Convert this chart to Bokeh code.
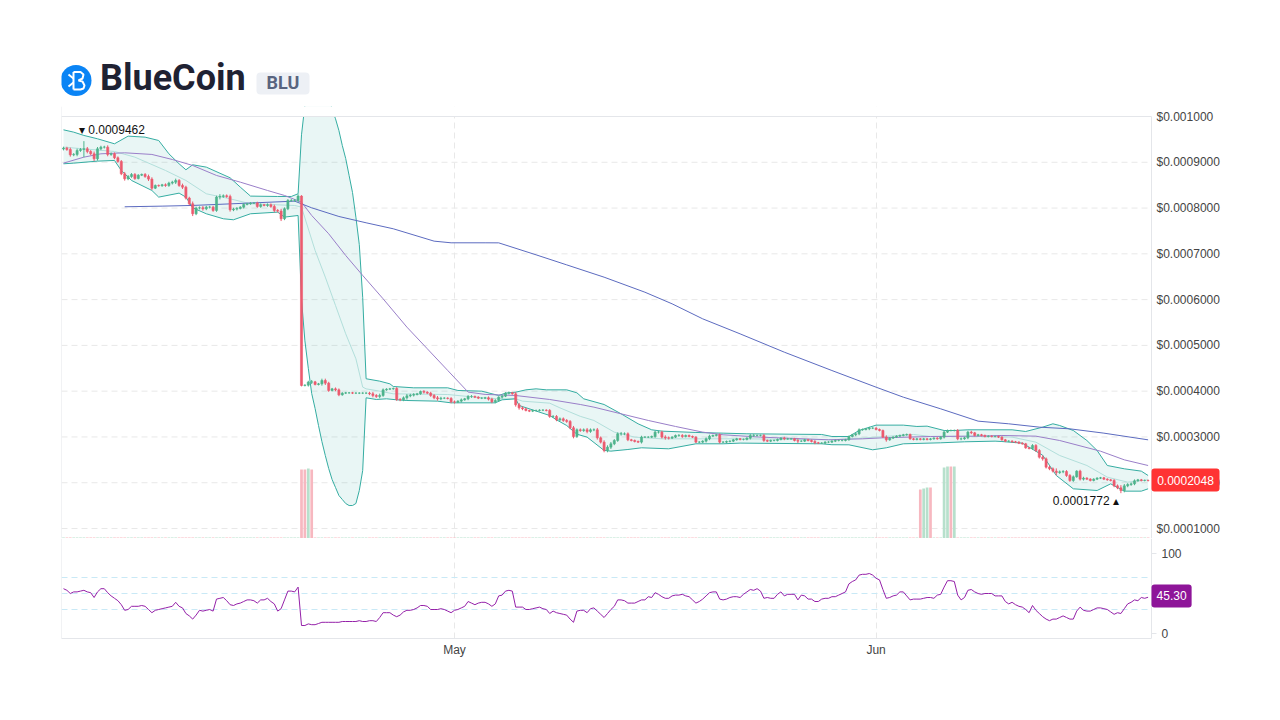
from datetime import datetime, timedelta
from bokeh.core.properties import value
from bokeh.embed import file_html
from bokeh.resources import INLINE
from bokeh.layouts import column
from bokeh.models import (Range1d, FixedTicker, CustomJSTickFormatter, DatetimeTickFormatter,
                          Label, Span, BoxAnnotation, LinearAxis)
from bokeh.plotting import figure

# ---- data (prices in units of 1e-7 USD) ----
TITLE = "BlueCoin"
SYMBOL = "BLU"
PRICE_TICKS = [1000, 2000, 3000, 4000, 5000, 6000, 7000, 8000, 9000, 10000]
RSI_TICKS = [0, 100]
RSI_LEVELS = [30, 50, 70]
MONTH_TICKS = [datetime(2024, 5, 1), datetime(2024, 6, 1)]
FIRST_CANDLE = datetime(2024, 4, 2, 6)
FIRST_OPEN = 9290
LAST_PRICE = 2048
LAST_RSI = 45.30
HIGH_MARK = (6, 9462)
LOW_MARK = (311, 1772)

CLOSES = [
 9309,9280,9163,9171,9258,9280,9294,9236,9185,9076,9294,9331,9331,9171,9185,9098,9018,8748,8639,8690,
 8734,8646,8719,8734,8690,8632,8435,8494,8486,8508,8494,8545,8566,8603,8494,8457,8217,8093,7875,8000,
 8006,7984,8020,8020,7948,8239,8253,8268,8253,7962,7977,7991,8020,8079,8093,8108,8108,8035,8071,8057,
 8071,8035,7948,7933,7766,7984,8166,8166,8166,8261,4124,4131,4197,4204,4146,4160,4233,4175,4015,4051,
 4029,3920,3957,3964,3964,3957,3957,3957,3957,3957,3942,3906,3884,3906,4029,4044,4051,4058,3818,3811,
 3855,3898,3913,3927,3942,3993,3978,3957,3906,3855,3833,3847,3847,3840,3767,3760,3782,3811,3833,3884,
 3884,3869,3847,3847,3855,3826,3767,3796,3869,3891,3957,3964,3942,3702,3636,3614,3578,3563,3578,3578,
 3585,3585,3578,3447,3447,3374,3396,3360,3338,3200,3010,3156,3141,3156,3120,3156,3156,2981,2887,2705,
 2777,2850,2923,3069,3069,3069,2938,2923,2901,2887,2996,2996,2996,3010,3105,3105,2996,2981,2974,2996,
 3032,3032,3010,3032,3010,2996,2887,2887,2908,2959,3018,3032,3047,2887,2887,2901,2908,2938,2959,2945,
 2945,2974,3032,3032,3032,3032,2923,2908,2923,2923,2945,2974,2959,2959,2959,2923,2908,2908,2938,2923,
 2901,2872,2865,2865,2887,2887,2908,2923,2923,2923,2938,3010,3047,3068,3156,3163,3178,3192,3192,3163,
 3141,2996,2937,2974,2996,3017,3032,3047,3054,2959,2945,2959,2945,2959,2945,2959,2974,2959,2996,3105,
 3141,3141,3141,2959,2959,2981,3105,3090,3032,3047,3032,3010,3017,3010,3010,2996,2937,2908,2908,2893,
 2886,2864,2850,2762,2748,2813,2704,2558,2522,2340,2304,2253,2223,2238,2245,2158,2049,2129,2253,2078,
 2100,2078,2049,2078,2100,2107,2078,2063,2049,1932,1889,1830,1932,1961,1976,2042,2063,2049,2049,2048]

WICKS = [
 30,30,40,30,40,30,168,40,30,50,40,30,30,40,30,30,30,30,40,30,
 30,30,20,20,30,40,40,20,20,20,30,30,30,40,30,40,30,30,50,30,
 30,40,30,30,30,30,50,30,30,40,30,30,20,30,20,20,20,30,30,20,
 30,30,40,30,50,30,30,30,30,40,20,20,30,40,20,20,40,40,30,20,
 30,30,20,20,20,20,20,20,20,20,30,40,30,40,30,20,20,20,30,30,
 30,40,30,30,20,20,30,20,30,30,40,30,20,20,30,30,20,30,20,30,
 30,20,20,20,20,30,30,30,20,30,20,30,20,40,40,30,20,20,20,20,
 20,20,20,30,30,30,30,30,30,30,40,30,30,30,40,30,30,40,30,40,
 40,40,30,30,40,30,30,20,20,20,30,20,20,20,30,30,30,40,30,20,
 20,30,30,20,20,20,20,20,20,30,30,20,20,30,20,20,20,20,20,20,
 20,20,30,30,20,20,30,20,20,20,20,20,30,20,20,20,40,20,20,20,
 20,30,20,20,20,20,20,20,20,20,20,20,20,30,30,20,20,30,20,20,
 20,20,40,20,20,20,20,20,20,20,20,20,20,20,20,20,20,20,20,30,
 20,20,20,30,30,20,30,30,20,20,20,20,20,20,20,20,20,20,20,20,
 20,20,20,20,20,30,30,30,40,30,30,30,60,30,30,30,30,30,20,30,
 30,20,20,20,20,20,20,20,20,30,30,58,40,30,30,30,20,20,20,20]

UPPER_IDX = [0,3,6,10,15,19,24,28,31,34,36,38,42,49,52,55,63,67,69,70,71,72,73,74,75,76,77,78,79,80,81,82,83,84,85,86,87,88,89,
 93,96,97,103,113,116,123,128,130,133,136,139,142,148,151,153,159,164,169,173,176,186,194,201,223,226,231,234,239,247,251,254,259,262,266,279,283,288,291,293,297,301,304,307,312,317,319]
UPPER_VAL = [9709,9658,9586,9513,9404,9571,9549,9476,9185,8967,8836,8945,8894,8661,8457,8261,8253,8253,8312,9600,10250,10500,10650,10700,10750,10750,10700,10500,10150,9950,9694,9367,9083,8712,8340,7800,7200,6050,4271,
 4219,4160,4102,4073,4073,4015,4000,3906,3957,3978,4029,4051,4029,4029,3964,3833,3709,3505,3287,3156,3127,3098,3083,3069,3054,3010,3010,3141,3258,3258,3229,3236,3141,3141,3156,3156,3119,3214,3287,3250,3141,2922,2704,2376,2304,2253,2158]

LOWER_IDX = [0,3,10,15,17,20,26,28,34,36,38,42,47,50,55,63,65,69,70,71,72,73,74,75,76,77,78,79,80,81,82,83,84,85,86,87,88,89,
 92,95,98,101,110,114,127,129,133,134,143,145,148,151,154,159,161,166,170,178,186,194,199,223,226,231,238,242,247,258,265,274,276,282,288,292,297,304,308,312,317,319]
LOWER_VAL = [8967,8981,9025,9040,8821,8603,8384,8239,8326,8239,8006,7875,7766,7744,7875,7911,7802,7838,6000,5100,4500,3950,3621,3250,2900,2595,2311,2070,1896,1721,1634,1546,1502,1502,1546,1830,2267,3855,
 3818,3833,3811,3796,3782,3745,3745,3811,3833,3687,3469,3374,3250,3060,2996,2705,2690,2726,2763,2741,2850,2850,2865,2850,2830,2828,2719,2763,2850,2872,2894,2908,2900,2864,2600,2158,1867,1830,1976,1816,1816,1867]

MID_IDX = [0,15,21,30,36,42,49,55,68,70,74,77,80,83,86,88,89,93,97,113,123,128,133,135,143,146,152,156,162,168,176,191,201,226,236,250,255,265,279,286,293,301,307,313,319]
MID_VAL = [9331,9236,9112,8821,8603,8312,8202,8093,8056,8020,7074,6491,5872,5254,4708,4089,4051,4000,3942,3927,3855,3833,3833,3782,3738,3636,3450,3360,3105,2996,2959,2959,2959,2937,2981,3054,3010,3017,2996,2886,2595,2376,2122,2012,2063]

SLOW_IDX = [0,6,11,18,26,32,38,45,52,60,65,70,73,78,83,88,94,101,107,113,119,124,133,143,146,152,156,164,172,180,188,194,205,225,235,241,255,269,276,286,293,305,312,319]
SLOW_VAL = [8981,9112,9185,9207,9171,9061,8930,8712,8566,8384,8275,8129,7838,7438,6964,6528,6018,5399,4926,4453,3980,3929,3905,3818,3782,3709,3651,3505,3360,3229,3105,3047,2996,2938,2959,2981,3010,3017,3032,3017,2922,2689,2500,2376]

LONG_IDX = [18,29,38,45,68,73,81,89,97,109,114,124,128,139,148,159,171,179,188,199,212,226,239,247,258,269,278,287,296,306,319]
LONG_VAL = [8028,8042,8057,8079,8151,8005,7816,7678,7547,7277,7241,7241,7240,6978,6759,6490,6162,5908,5580,5252,4852,4451,4087,3869,3614,3345,3287,3214,3177,3083,2937]

RSI = [
 56,54,50,52,52,53,54,52,51,45,52,56,56,51,47,44,41,36,29,30,
 34,34,34,35,34,30,26,29,30,31,32,33,34,39,34,32,25,22,18,23,
 29,28,29,30,28,43,44,45,41,36,35,37,38,40,42,42,41,38,42,42,
 44,40,37,28,31,42,53,53,52,58,10,10,12,11,11,12.5,14,14,14,14,
 14,14,15,15,15,15,15,16,15,15,16,16,15,20,26,26,26,23,21,23,
 27,29,29,30,32,35,35,34,30,30,30,31,30,28,26,29,30,32,34,40,
 38,36,38,39,39,37,34,37,47,48,53,54,53,33,33,33,30,30,31,32,
 33,31,30,25,28,26,25,24,23,18,14,28,29,29,26,31,32,28,24,20,
 25,30,34,42,42,41,38,38,38,40,42,42,46,45,51,49,46,44,44,47,
 48,48,49,47,46,42,38,40,43,47,51,52,52,43,42,43,45,46,46,45,
 49,52,55,54,56,53,44,45,44,44,49,52,47,49,49,49,42,48,47,43,
 43,40,40,43,44,44,46,46,48,50,52,62,65,67,73,74,74,75,73,69,
 67,55,44,45,47,48,52,52,47,42,43,43,43,44,45,45,44,48,49,58,
 66,66,65,48,42,45,54,55,52,50,49,50,50,50,47,47,47,40,37,39,
 36,34,33,30,26,35,29,25,21,18,16,18,18,20,22,20,18,18,28,33,
 29,28,28,30,32,32,31,30,27,24,26,25,31,37,39,42,41,45,44,45.3]

VOLUME_BASE = 1
SPIKE_IDX = [70,71,72,73,252,253,254,255,259,260,261,262]
SPIKE_VOL = [69,69,70,69,49,50,51,51,71,72,72,72]
SPIKE_UP = [False,False,True,False,False,True,True,False,True,True,False,True]

# ---- styles ----
FONT = "Liberation Sans"
TEXT = "#444444"
BORDER = "#e4e6ea"
GRID = "#e8e8e8"
UP, DOWN = "#4db38c", "#ec5a6e"
VOL_UP, VOL_DOWN = "#b7e0cc", "#f7b8c0"
TEAL = "#35ada2"
DASH = [6, 4]
LEFT_PAD, FRAME_W = 61, 1203     # the frame runs on under the axis so the value tags can sit over it
PX_PER_CANDLE = 3.4              # candle 0 is 2px inside the frame's left edge
AXIS_SLOT = 320                  # the price axis stands one candle after the last one
SCALE = 1e-7
PRICE_PER_PX = 0.0009 / 412
TOP_ROOM = 10                    # px of frame kept above the 0.001 line for the top tick label

def t(i):
    return FIRST_CANDLE + timedelta(hours=6 * i)

def ts(i):
    return (t(i) - datetime(1970, 1, 1)).total_seconds() * 1000

def scaled(vals):
    return [v * SCALE for v in vals]

n = len(CLOSES)
times = [t(i) for i in range(n)]
opens = [FIRST_OPEN] + CLOSES[:-1]
highs = [max(o, c) + w for o, c, w in zip(opens, CLOSES, WICKS)]
lows = [min(o, c) - w for o, c, w in zip(opens, CLOSES, WICKS)]
x_start = ts(-2 / PX_PER_CANDLE)
x_end = ts((FRAME_W - 2) / PX_PER_CANDLE)
x_axis = ts(AXIS_SLOT)
x_range = Range1d(x_start, x_end)
month_ms = [(m - datetime(1970, 1, 1)).total_seconds() * 1000 for m in MONTH_TICKS]

# ---- header (its frame is aligned with the panels below: x data = page x - 61, y data = page y) ----
H_W, H_H = LEFT_PAD + FRAME_W, 106
header = figure(width=H_W, height=H_H, x_range=Range1d(0, FRAME_W), y_range=Range1d(H_H, 0),
                x_axis_location=None, y_axis_location=None, toolbar_location=None,
                output_backend="svg", min_border_left=LEFT_PAD, min_border_right=0,
                min_border_top=0, min_border_bottom=0, outline_line_color=None)
header.grid.visible = False
header.circle(x=[14.5], y=[80], radius=15.5, fill_color="#0a84f5", line_color=None)
header.multi_line(
    xs=[[12, 19, 22, 21, 17, 21, 23, 22, 19, 12], [7, 12], [7, 12], [12, 12]],
    ys=[[71.5, 71.5, 74, 78, 80, 81, 85, 88, 89, 89], [74, 78], [86, 82], [71.5, 89]],
    line_color="white", line_width=2)
header.text(x=[38.5], y=[77], text=[TITLE], text_font=value("Roboto"), text_font_style="bold",
            text_font_size="36px", text_color="#1f2233", text_align="left", text_baseline="middle")
header.add_layout(BoxAnnotation(left=195, right=248, top=72, bottom=94, level="underlay",
                                fill_color="#edf0f5", fill_alpha=1, line_color=None, border_radius=4))
header.text(x=[221.5], y=[82], text=[SYMBOL], text_font=value("Roboto"), text_font_style="bold",
            text_font_size="18px", text_color="#59647f", text_align="center", text_baseline="middle")

# ---- price panel ----
main = figure(width=H_W, height=432, x_range=x_range,
              y_range=Range1d(0.001 - 422 * PRICE_PER_PX, 0.001 + TOP_ROOM * PRICE_PER_PX),
              y_axis_location=None, toolbar_location=None, output_backend="svg",
              min_border_left=LEFT_PAD, min_border_right=0, min_border_top=0,
              min_border_bottom=0, outline_line_color=None)
main.xaxis.visible = False
main.ygrid.visible = False
main.xgrid.ticker = FixedTicker(ticks=month_ms)
main.xgrid.grid_line_color = GRID
main.xgrid.grid_line_dash = DASH
price_axis = LinearAxis(fixed_location=x_axis, bounds=(0.0, 0.001),
    ticker=FixedTicker(ticks=scaled(PRICE_TICKS)),
    formatter=CustomJSTickFormatter(code='return tick > 0.00099 ? "$0.001000" : "$" + tick.toFixed(7);'),
    major_label_text_font=FONT, major_label_text_font_size="12px", major_label_text_color=TEXT,
    major_tick_line_color=None, major_tick_out=0, major_tick_in=0, minor_tick_line_color=None,
    major_label_standoff=5, axis_line_color=BORDER)
main.add_layout(price_axis, "right")
main.segment(x0=x_start, x1=x_axis, y0=scaled(PRICE_TICKS[:-1]), y1=scaled(PRICE_TICKS[:-1]),
             line_color=GRID, line_dash=value(DASH), line_width=1)
main.add_layout(Span(location=x_start, dimension="height", line_color=BORDER, line_width=1))

# volume on its own scale, one unit per pixel of panel height
main.extra_y_ranges = {"vol": Range1d(0, 432)}
vol = [VOLUME_BASE] * n
vol_up = [c >= o for o, c in zip(opens, CLOSES)]
for i, v, u in zip(SPIKE_IDX, SPIKE_VOL, SPIKE_UP):
    vol[i], vol_up[i] = v, u
main.vbar(x=times, top=vol, bottom=0, width=0.8 * 6 * 3600 * 1000, y_range_name="vol",
          fill_color=[VOL_UP if u else VOL_DOWN for u in vol_up], line_color=None)

# Bollinger fill and lines
main.patch(x=[t(i) for i in UPPER_IDX] + [t(i) for i in reversed(LOWER_IDX)],
           y=scaled(UPPER_VAL) + scaled(LOWER_VAL[::-1]),
           fill_color="#26a69a", fill_alpha=0.1, line_color=None)
main.line([t(i) for i in MID_IDX], scaled(MID_VAL), line_color="#b2dfdb", line_width=1)
main.line([t(i) for i in UPPER_IDX], scaled(UPPER_VAL), line_color=TEAL, line_width=1)
main.line([t(i) for i in LOWER_IDX], scaled(LOWER_VAL), line_color=TEAL, line_width=1)
main.line([t(i) for i in SLOW_IDX], scaled(SLOW_VAL), line_color="#9a7fc9", line_width=1)
main.line([t(i) for i in LONG_IDX], scaled(LONG_VAL), line_color="#5c6bc0", line_width=1)

# candles
colors = [UP if c >= o else DOWN for o, c in zip(opens, CLOSES)]
main.segment(x0=times, x1=times, y0=scaled(highs), y1=scaled(lows), line_color=colors, line_width=1)
main.vbar(x=times, top=scaled([max(o, c) for o, c in zip(opens, CLOSES)]),
          bottom=scaled([min(o, c) for o, c in zip(opens, CLOSES)]),
          width=0.62 * 6 * 3600 * 1000, fill_color=colors, line_color=colors, line_width=0.6)

# high / low markers
main.text(x=[t(HIGH_MARK[0])], y=[HIGH_MARK[1] * SCALE], text=[f"\u25be {HIGH_MARK[1] * SCALE:.7f}"],
          x_offset=-5, y_offset=-11, text_font=value(FONT), text_font_size="12px", text_color="#111111",
          text_align="left", text_baseline="middle")
main.text(x=[t(LOW_MARK[0])], y=[LOW_MARK[1] * SCALE], text=[f"{LOW_MARK[1] * SCALE:.7f} \u25b4"],
          x_offset=-2, y_offset=8, text_font=value(FONT), text_font_size="12px", text_color="#111111",
          text_align="right", text_baseline="middle")

# everything above the 0.001 line is cut off, as the plot's top edge does, and the edge itself drawn
main.add_layout(BoxAnnotation(left=x_start, right=x_axis, bottom=0.001, top=0.001 + 4 * TOP_ROOM * PRICE_PER_PX,
                              fill_color="white", fill_alpha=1, line_color=None))
main.add_layout(BoxAnnotation(left=x_start, right=x_axis, bottom=0.001 - PRICE_PER_PX / 2,
                              top=0.001 + PRICE_PER_PX / 2, fill_color=BORDER, fill_alpha=1, line_color=None))

# last-price tag
main.add_layout(BoxAnnotation(left=x_axis, right=ts(340), top=2311 * SCALE, bottom=1808 * SCALE,
                              fill_color="#ff3333", fill_alpha=1, line_color=None, border_radius=3))
main.add_layout(Label(x=ts(330), y=2059 * SCALE, text=f"{LAST_PRICE * SCALE:.7f}", text_font=FONT,
                      text_font_size="12px", text_color="white", text_align="center", text_baseline="middle"))

# ---- RSI panel ----
rsi = figure(width=H_W, height=132, x_range=x_range, y_range=Range1d(-6.25, 118.75),
             y_axis_location=None, toolbar_location=None, output_backend="svg",
             min_border_left=LEFT_PAD, min_border_right=0, min_border_top=0,
             min_border_bottom=32, outline_line_color=None)
rsi.xaxis.ticker = FixedTicker(ticks=month_ms)
rsi.xaxis.bounds = (x_start, x_axis)
rsi.xaxis.formatter = DatetimeTickFormatter(months="%b", days="%b", hours="%b", years="%b")
rsi.xaxis.major_label_text_font = FONT
rsi.xaxis.major_label_text_font_size = "12px"
rsi.xaxis.major_label_text_color = TEXT
rsi.xaxis.major_tick_line_color = None
rsi.xaxis.major_tick_out = 0
rsi.xaxis.major_tick_in = 0
rsi.xaxis.minor_tick_line_color = None
rsi.xaxis.axis_line_color = BORDER
rsi.xaxis.major_label_standoff = 4
rsi.xgrid.grid_line_color = GRID
rsi.xgrid.grid_line_dash = DASH
rsi.ygrid.visible = False
rsi_axis = LinearAxis(fixed_location=x_axis, ticker=FixedTicker(ticks=RSI_TICKS),
    major_label_text_font=FONT, major_label_text_font_size="12px", major_label_text_color=TEXT,
    major_tick_line_color=BORDER, major_tick_out=5, major_tick_in=0, minor_tick_line_color=None,
    major_label_standoff=5, axis_line_color=BORDER)
rsi.add_layout(rsi_axis, "right")
rsi.segment(x0=x_start, x1=x_axis, y0=RSI_LEVELS, y1=RSI_LEVELS, line_color="#c9e9f6",
            line_dash=value(DASH), line_width=1)
rsi.add_layout(Span(location=x_start, dimension="height", line_color=BORDER, line_width=1))
rsi.line(times, RSI, line_color="#9420a8", line_width=1)
rsi.add_layout(BoxAnnotation(left=x_axis, right=ts(331.8), top=61.25, bottom=32.5,
                             fill_color="#8e1599", fill_alpha=1, line_color=None, border_radius=3))
rsi.add_layout(Label(x=ts(325.9), y=46.9, text=f"{LAST_RSI:.2f}", text_font=FONT,
                     text_font_size="12px", text_color="white", text_align="center", text_baseline="middle"))

layout = column(header, main, rsi, spacing=0)
open("out.html", "w").write(file_html(layout, INLINE))
